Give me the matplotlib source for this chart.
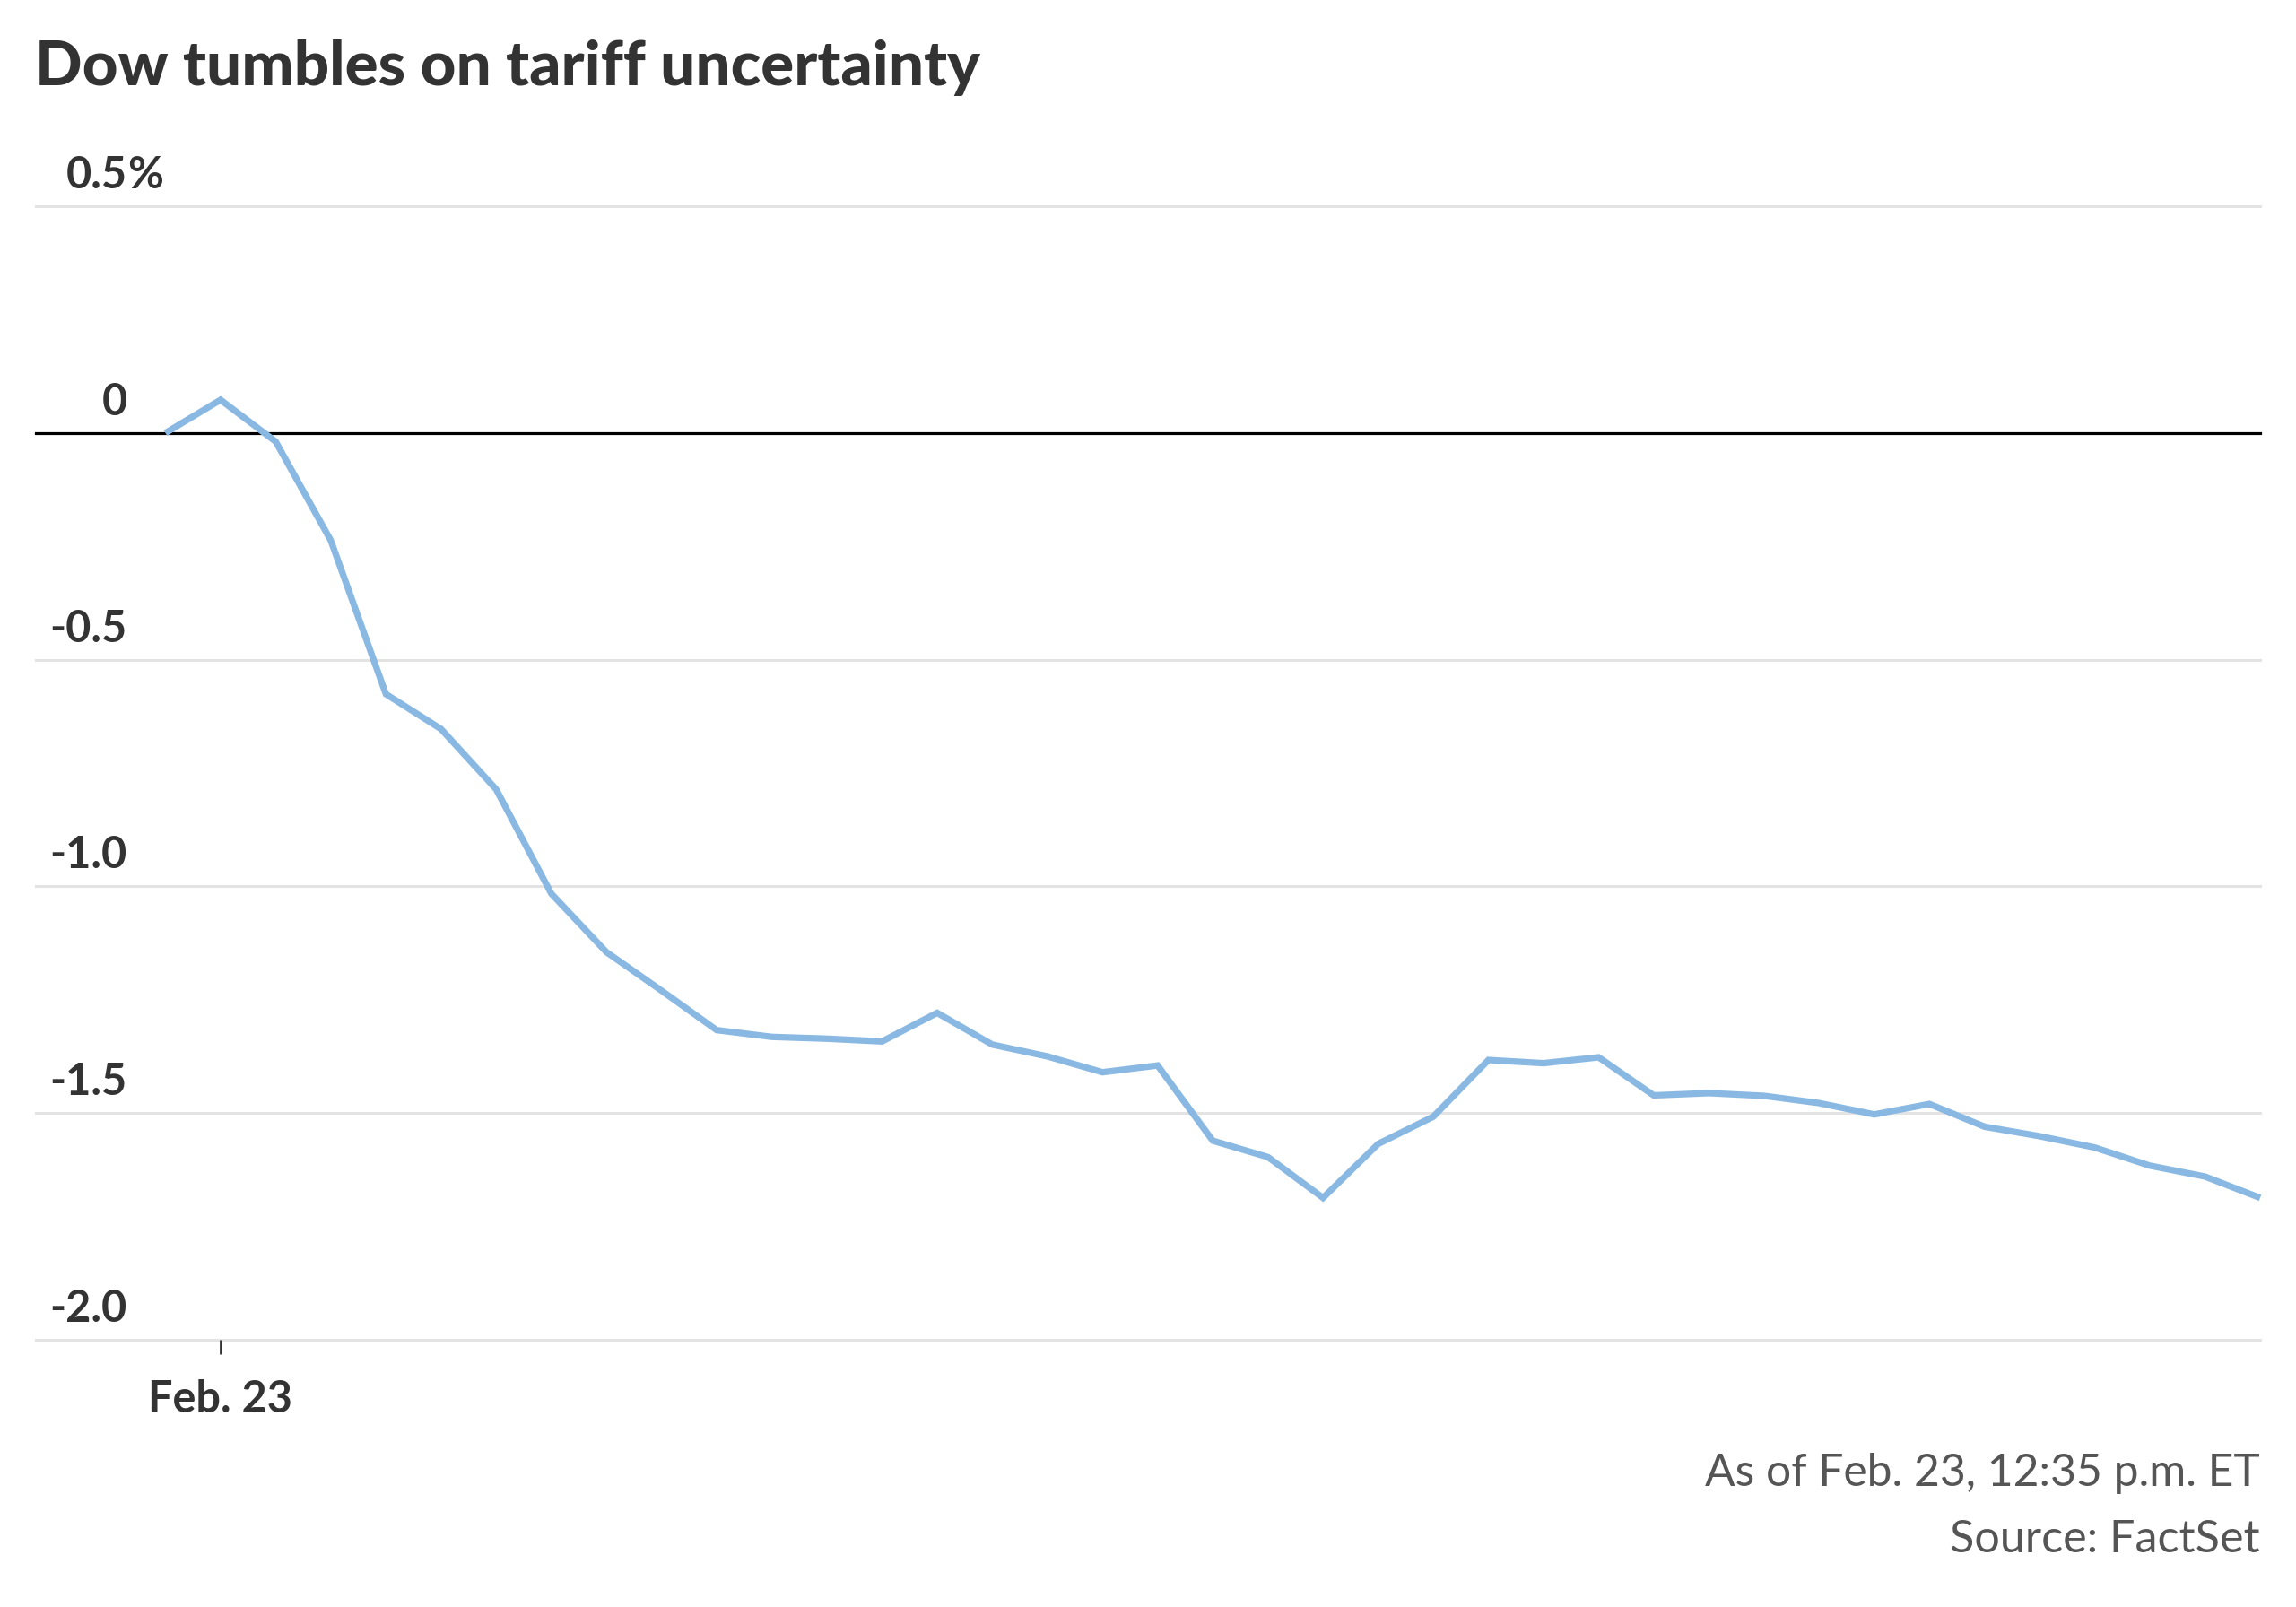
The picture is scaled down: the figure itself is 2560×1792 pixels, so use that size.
import matplotlib
matplotlib.use("Agg")
import matplotlib.pyplot as plt
from matplotlib import transforms
import numpy as np

# ---- data ----
title = "Dow tumbles on tariff uncertainty"
values = [0.0, 0.073, -0.019, -0.237, -0.576, -0.653, -0.786, -1.016, -1.145,
          -1.23, -1.317, -1.332, -1.336, -1.342, -1.279, -1.349, -1.375, -1.410,
          -1.395, -1.561, -1.597, -1.687, -1.568, -1.508, -1.383, -1.390, -1.377,
          -1.461, -1.456, -1.462, -1.478, -1.503, -1.480, -1.530, -1.551, -1.576,
          -1.616, -1.640, -1.687]
y_ticks = [0.5, 0.0, -0.5, -1.0, -1.5, -2.0]
y_tick_labels = ["0.5", "0", "-0.5", "-1.0", "-1.5", "-2.0"]
x_tick_index = [1]
x_tick_labels = ["Feb. 23"]
note = "As of Feb. 23, 12:35 p.m. ET"
source = "Source: FactSet"

W, H = 2560, 1792
DARK = "#333333"
plt.rcParams["font.family"] = ["Lato", "DejaVu Sans"]

fig = plt.figure(figsize=(W / 100, H / 100), dpi=100)
ax = fig.add_axes([40 / W, 1 - 1494 / H, 2480 / W, (1494 - 230) / H])
x = np.arange(len(values))
ax.set_xlim(-2.35, len(values) - 1)
ax.set_ylim(-2.0, 0.5)
for s in ax.spines.values():
    s.set_visible(False)

for yv in y_ticks:
    if yv == 0:
        ax.axhline(yv, color="black", lw=2.3, zorder=2, clip_on=False)
    else:
        ax.axhline(yv, color="#e3e3e3", lw=2.2, zorder=1, clip_on=False)

ax.plot(x, values, color="#89b8e2", lw=5.2, zorder=3, clip_on=False,
        solid_joinstyle="miter", solid_capstyle="butt")

ax.set_yticks([])
ax.set_xticks(x_tick_index)
ax.set_xticklabels(x_tick_labels)
ax.tick_params(axis="x", length=11.5, width=2, color=DARK, pad=20,
               labelsize=35, labelcolor=DARK)
for lab in ax.get_xticklabels():
    lab.set_fontweight("bold")

# y labels above gridlines
trans = transforms.offset_copy(ax.get_yaxis_transform(), fig=fig, y=20, units="dots")
xr = (142 - 40) / 2480
for yv, lab in zip(y_ticks, y_tick_labels):
    ax.text(xr, yv, lab, transform=trans, ha="right", va="baseline",
            fontsize=35, fontweight="bold", color=DARK)
    if yv == max(y_ticks):
        ax.text(xr, yv, "%", transform=trans, ha="left", va="baseline",
                fontsize=35, fontweight="bold", color=DARK)

fig.text(39 / W, 1 - 95 / H, title, fontsize=49.8, fontweight=900,
         color=DARK, ha="left", va="baseline")
fig.text(2520 / W, 1 - 1657 / H, note, fontsize=35.8, color="#555555",
         ha="right", va="baseline")
fig.text(2520 / W, 1 - 1731 / H, source, fontsize=36.2, color="#555555",
         ha="right", va="baseline")

fig.savefig("out.png", dpi=100, facecolor="white")
